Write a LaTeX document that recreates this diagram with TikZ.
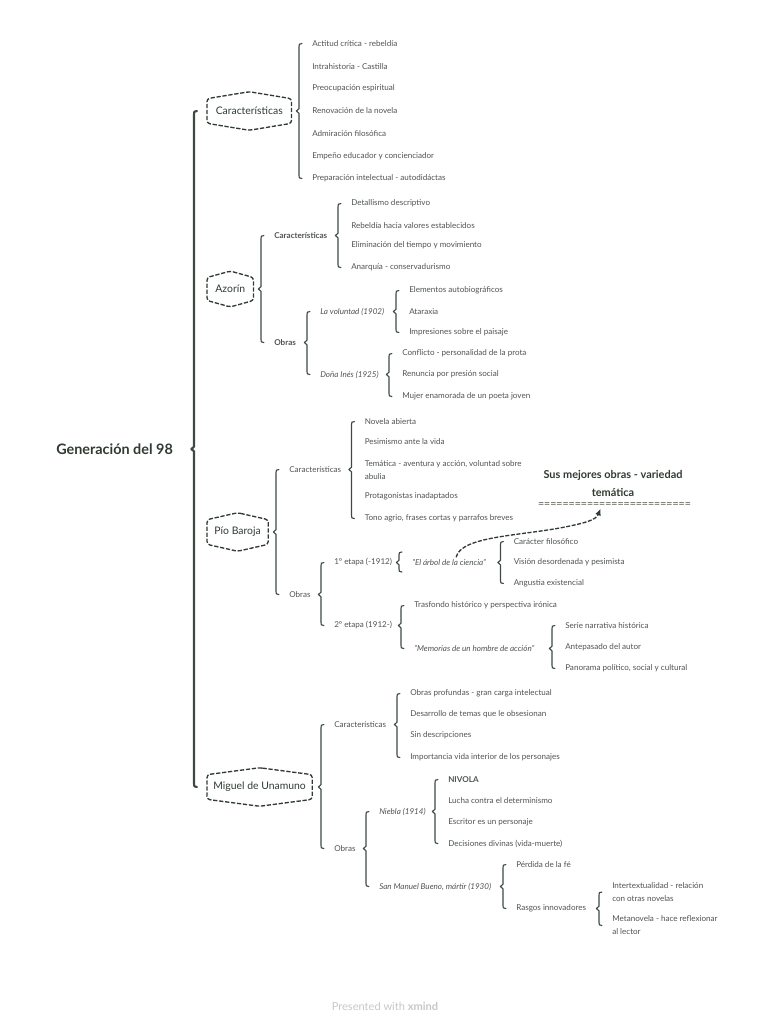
\documentclass[tikz,border=0pt]{standalone}
\usepackage{fontspec}
\setmainfont{Lato}
\usetikzlibrary{calc,arrows.meta}
\definecolor{lineC}{HTML}{3E4A41}
\definecolor{txtC}{HTML}{4E554F}
\definecolor{darkC}{HTML}{2F3A31}
\definecolor{eqC}{HTML}{7C8270}
\tikzset{
 leaf/.style={anchor=west,inner sep=0pt,yshift=-.4pt,text=txtC,font=\fontsize{6.05}{9.75}\selectfont,align=left},
 ital/.style={leaf,font=\fontsize{6.05}{9.75}\itshape\selectfont},
 boldleaf/.style={leaf,font=\fontsize{6.05}{9.75}\bfseries\selectfont},
 hexnode/.style={anchor=west,inner sep=0pt,text=darkC,font=\fontsize{7.8}{10}\selectfont,minimum height=28.5pt},
 rootnode/.style={anchor=west,inner sep=0pt,text=darkC,font=\fontsize{10.8}{13}\bfseries\selectfont},
 brc/.style={draw=lineC,line width=.85pt,line cap=round,line join=round},
 brcroot/.style={draw=lineC,line width=1.6pt,line cap=round,line join=round},
 hexline/.style={draw=darkC,line width=1pt,dash pattern=on 3.2pt off 1.3pt,rounded corners=2.2pt},
 sumnode/.style={inner sep=0pt,text=darkC,font=\fontsize{8.2}{13.5}\bfseries\selectfont,align=center},
}
\newcommand{\brcdraw}[4][brc]{%
 \draw[#1] let \p1=(#2.east),\p2=(#3.west),\p3=(#4.west),\n1={\x2-9.75pt},\n2={\n1+2.2pt},\n3={\n1-2pt} in
 (\n2,\y2) .. controls (\n1,\y2) and (\n1,\y2-.6pt) .. (\n1,\y2-2.4pt)
 -- (\n1,\y1+1.7pt) -- (\n3,\y1) -- (\n1,\y1-1.7pt)
 -- (\n1,\y3+2.4pt) .. controls (\n1,\y3+.6pt) and (\n1,\y3) .. (\n2,\y3);}
\newcommand{\hexdraw}[1]{%
 \draw[hexline] (#1.north) -- ($(#1.north east)!.18!(#1.south east)$) -- ($(#1.south east)!.18!(#1.north east)$) -- (#1.south) -- ($(#1.south west)!.18!(#1.north west)$) -- ($(#1.north west)!.18!(#1.south west)$) -- cycle;}
\begin{document}
\begin{tikzpicture}[x=.75pt,y=-.75pt]
\useasboundingbox (0,0) rectangle (768,1024);
\node[rootnode] (root) at (56,449) {Generación del 98};
\node[hexnode,minimum width=63pt] (car) at (207,111) {Características};
\node[hexnode,minimum width=34.5pt,minimum height=26.5pt] (azo) at (207,289) {Azorín};
\node[hexnode,minimum width=45.5pt] (bar) at (207,532) {Pío Baroja};
\node[hexnode,minimum width=78.5pt] (una) at (207,787) {Miguel de Unamuno};
\hexdraw{car}\hexdraw{azo}\hexdraw{bar}\hexdraw{una}
\brcdraw[brcroot]{root}{car}{una}
\node[leaf] (c1) at (312,43) {Actitud crítica - rebeldía};
\node[leaf] (c2) at (312,66) {Intrahistoria - Castilla};
\node[leaf] (c3) at (312,88) {Preocupación espiritual};
\node[leaf] (c4) at (312,110) {Renovación de la novela};
\node[leaf] (c5) at (312,133) {Admiración filosófica};
\node[leaf] (c6) at (312,156) {Empeño educador y concienciador};
\node[leaf] (c7) at (312,178) {Preparación intelectual - autodidáctas};
\brcdraw{car}{c1}{c7}
\node[boldleaf] (ac) at (274,235) {Características};
\node[boldleaf] (ao) at (274,342) {Obras};
\brcdraw{azo}{ac}{ao}
\node[leaf] (ac1) at (351,203) {Detallismo descriptivo};
\node[leaf] (ac2) at (351,225) {Rebeldía hacia valores establecidos};
\node[leaf] (ac3) at (351,245) {Eliminación del tiempo y movimiento};
\node[leaf] (ac4) at (351,267) {Anarquía - conservadurismo};
\brcdraw{ac}{ac1}{ac4}
\node[ital] (av) at (320,311) {La voluntad (1902)};
\node[ital] (ad) at (320,374) {Doña Inés (1925)};
\brcdraw{ao}{av}{ad}
\node[leaf] (av1) at (409,290) {Elementos autobiográficos};
\node[leaf] (av2) at (409,311) {Ataraxia};
\node[leaf] (av3) at (409,332) {Impresiones sobre el paisaje};
\brcdraw{av}{av1}{av3}
\node[leaf] (ad1) at (402,353) {Conflicto - personalidad de la prota};
\node[leaf] (ad2) at (402,374) {Renuncia por presión social};
\node[leaf] (ad3) at (402,396) {Mujer enamorada de un poeta joven};
\brcdraw{ad}{ad1}{ad3}
\node[leaf] (bc) at (289,469) {Características};
\node[leaf] (bo) at (289,594) {Obras};
\brcdraw{bar}{bc}{bo}
\node[leaf] (bc1) at (364.5,421) {Novela abierta};
\node[leaf] (bc2) at (364.5,441) {Pesimismo ante la vida};
\node[leaf] (bc3) at (364.5,470) {Temática - aventura y acción, voluntad sobre\\abulia};
\node[leaf] (bc4) at (364.5,496) {Protagonistas inadaptados};
\node[leaf] (bc5) at (364.5,518) {Tono agrio, frases cortas y parrafos breves};
\brcdraw{bc}{bc1}{bc5}
\node[leaf] (b1) at (334,562) {1º etapa (-1912)};
\node[leaf] (b2) at (334,625) {2º etapa (1912-)};
\brcdraw{bo}{b1}{b2}
\node[ital] (arb) at (412,562) {"El árbol de la ciencia"};
\coordinate (arbT) at (412,552);
\coordinate (arbB) at (412,572);
\brcdraw{b1}{arbT}{arbB}
\node[leaf] (ar1) at (513.5,541) {Carácter filosófico};
\node[leaf] (ar2) at (513.5,561.5) {Visión desordenada y pesimista};
\node[leaf] (ar3) at (513.5,583) {Angustia existencial};
\brcdraw{arb}{ar1}{ar3}
\node[leaf] (b21) at (414,605) {Trasfondo histórico y perspectiva irónica};
\node[ital] (mem) at (414,648) {"Memorias de un hombre de acción"};
\brcdraw{b2}{b21}{mem}
\node[leaf] (m1) at (565,625) {Serie narrativa histórica};
\node[leaf] (m2) at (565,647) {Antepasado del autor};
\node[leaf] (m3) at (565,668) {Panorama político, social y cultural};
\brcdraw{mem}{m1}{m3}
\node[sumnode] (sum) at (613,483) {Sus mejores obras - variedad\\temática};
\node[inner sep=0pt,text=eqC,font=\fontsize{7.9}{8}\bfseries\selectfont] (eq) at (614.5,505) {=========================};
\draw[line width=1pt,draw=darkC,dash pattern=on 3pt off 1.2pt,-{Latex[length=5pt,width=4.5pt]}]
 ($(arb.north)+(7,-2)$) .. controls (461,536) and (520,536) .. (565,527) .. controls (585,523) and (596,520) .. ($(eq.south)+(-14,1)$);
\node[leaf] (uc) at (334,724) {Características};
\node[leaf] (uo) at (334,848) {Obras};
\brcdraw{una}{uc}{uo}
\node[leaf] (uc1) at (410,693) {Obras profundas - gran carga intelectual};
\node[leaf] (uc2) at (410,714) {Desarrollo de temas que le obsesionan};
\node[leaf] (uc3) at (410,735) {Sin descripciones};
\node[leaf] (uc4) at (410,757) {Importancia vida interior de los personajes};
\brcdraw{uc}{uc1}{uc4}
\node[ital] (un) at (379,811) {Niebla (1914)};
\node[ital] (us) at (379,886) {San Manuel Bueno, mártir (1930)};
\brcdraw{uo}{un}{us}
\node[boldleaf] (un1) at (448,779) {NIVOLA};
\node[leaf] (un2) at (448,800) {Lucha contra el determinismo};
\node[leaf] (un3) at (448,822) {Escritor es un personaje};
\node[leaf] (un4) at (448,843) {Decisiones divinas (vida-muerte)};
\brcdraw{un}{un1}{un4}
\node[leaf] (us1) at (516,864) {Pérdida de la fé};
\node[leaf] (us2) at (516,908) {Rasgos innovadores};
\brcdraw{us}{us1}{us2}
\node[leaf] (r1) at (612,891.5) {Intertextualidad - relación\\con otras novelas};
\node[leaf] (r2) at (612,925) {Metanovela - hace reflexionar\\al lector};
\brcdraw{us2}{r1}{r2}
\node[inner sep=0pt,text=black!22,font=\fontsize{8.3}{10}\selectfont] (foot) at (385,1006) {Presented with \textbf{xmind}};
\end{tikzpicture}
\end{document}
